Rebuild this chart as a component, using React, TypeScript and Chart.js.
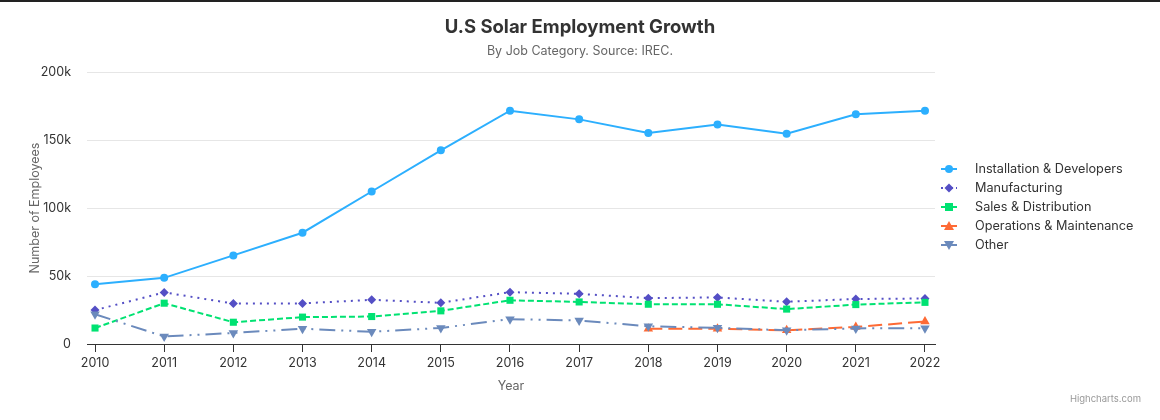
import React, { useEffect, useRef } from "react";
import { Chart, registerables } from "chart.js";

Chart.register(...registerables);

const years = [2010, 2011, 2012, 2013, 2014, 2015, 2016, 2017, 2018, 2019, 2020, 2021, 2022];
const installation = [43934, 48656, 65165, 81827, 112143, 142383, 171533, 165174, 155157, 161454, 154610, 168960, 171558];
const manufacturing = [24916, 37941, 29742, 29851, 32490, 30282, 38121, 36885, 33726, 34243, 31050, 33099, 33473];
const sales = [11744, 30000, 16005, 19771, 20185, 24377, 32147, 30912, 29243, 29213, 25663, 28978, 30618];
const operations = [null, null, null, null, null, null, null, null, 11164, 11218, 10077, 12530, 16585];
const other = [21908, 5548, 8105, 11248, 8989, 11816, 18274, 17300, 13053, 11906, 10073, 11471, 11648];
const seriesNames = ["Installation & Developers", "Manufacturing", "Sales & Distribution", "Operations & Maintenance", "Other"];
const yTicks = [0, 50000, 100000, 150000, 200000];

const FONT = "Inter, 'Noto Sans', sans-serif";

type Style = { color: string; dash: number[]; marker: string; rotation: number; radius: number };
const styles: Style[] = [
  { color: "#2caffe", dash: [], marker: "circle", rotation: 0, radius: 4 },
  { color: "#544fc5", dash: [2, 5], marker: "rectRot", rotation: 0, radius: 4.5 },
  { color: "#00e272", dash: [6, 3], marker: "rect", rotation: 0, radius: 5 },
  { color: "#fe6a35", dash: [14, 6], marker: "triangle", rotation: 0, radius: 5.5 },
  { color: "#6b8abc", dash: [16, 6, 2, 6, 2, 6], marker: "triangle", rotation: 180, radius: 5.5 },
];
const seriesValues = [installation, manufacturing, sales, operations, other];

function drawMarker(ctx: CanvasRenderingContext2D, kind: number, x: number, y: number) {
  ctx.beginPath();
  if (kind === 0) {
    ctx.arc(x, y, 4, 0, Math.PI * 2);
  } else if (kind === 1) {
    ctx.moveTo(x, y - 4.5); ctx.lineTo(x + 4.5, y); ctx.lineTo(x, y + 4.5); ctx.lineTo(x - 4.5, y);
  } else if (kind === 2) {
    ctx.rect(x - 4, y - 4, 8, 8);
  } else if (kind === 3) {
    ctx.moveTo(x, y - 5); ctx.lineTo(x + 5, y + 4); ctx.lineTo(x - 5, y + 4);
  } else {
    ctx.moveTo(x, y + 5); ctx.lineTo(x + 5, y - 4); ctx.lineTo(x - 5, y - 4);
  }
  ctx.closePath();
  ctx.fill();
}

const decorations = {
  id: "decorations",
  afterDraw(chart: any) {
    const { ctx, chartArea } = chart;
    const cx = (chartArea.left + chartArea.right) / 2;
    ctx.save();
    ctx.textAlign = "center";
    ctx.textBaseline = "middle";
    ctx.fillStyle = "#333333";
    ctx.font = `bold 18.5px ${FONT}`;
    ctx.fillText("U.S Solar Employment Growth", chart.width / 2, 27);
    ctx.fillStyle = "#666666";
    ctx.font = `12.5px ${FONT}`;
    ctx.fillText("By Job Category. Source: IREC.", chart.width / 2, 51);

    // axis titles
    ctx.fillStyle = "#666666";
    ctx.font = `12.5px ${FONT}`;
    ctx.fillText("Year", cx, 386);
    ctx.save();
    ctx.translate(35, (chartArea.top + chartArea.bottom) / 2);
    ctx.rotate(-Math.PI / 2);
    ctx.fillText("Number of Employees", 0, 0);
    ctx.restore();

    // legend
    const lx = chartArea.right + 6;
    seriesNames.forEach((name, i) => {
      const y = 169 + i * 19;
      const s = styles[i];
      ctx.strokeStyle = s.color;
      ctx.fillStyle = s.color;
      ctx.lineWidth = 2;
      ctx.setLineDash(i === 1 ? [2, 3] : []);
      ctx.beginPath();
      ctx.moveTo(lx, y);
      ctx.lineTo(lx + 16, y);
      ctx.stroke();
      ctx.setLineDash([]);
      drawMarker(ctx, i, lx + 8, y);
      ctx.fillStyle = "#333333";
      ctx.textAlign = "left";
      ctx.font = `12.7px ${FONT}`;
      ctx.fillText(name, lx + 34, y);
    });

    ctx.textAlign = "right";
    ctx.fillStyle = "#999999";
    ctx.font = `9.5px ${FONT}`;
    ctx.fillText("Highcharts.com", 1141, 399);
    ctx.restore();
  },
};

export default function App() {
  const canvasRef = useRef<HTMLCanvasElement | null>(null);

  useEffect(() => {
    document.body.style.margin = "0";
    const canvas = canvasRef.current;
    if (!canvas) return;
    const chart = new Chart(canvas, {
      type: "line",
      data: {
        datasets: seriesValues.map((vals, i) => ({
          label: seriesNames[i],
          data: years.map((yr, j) => ({ x: yr, y: vals[j] })),
          borderColor: styles[i].color,
          backgroundColor: styles[i].color,
          borderWidth: 2,
          borderDash: styles[i].dash,
          pointStyle: styles[i].marker as any,
          pointRotation: styles[i].rotation,
          pointRadius: styles[i].radius,
          pointBorderWidth: 0,
          tension: 0,
          spanGaps: false,
          clip: false as any,
          order: 5 - i,
        })),
      },
      options: {
        animation: false,
        responsive: false,
        layout: { padding: { top: 72, right: 225, left: 0, bottom: 0 } },
        plugins: { legend: { display: false }, title: { display: false }, tooltip: { enabled: false } },
        scales: {
          x: {
            type: "linear",
            min: 2009.884,
            max: 2022.145,
            afterBuildTicks: (scale: any) => {
              scale.ticks = years.map((v) => ({ value: v }));
            },
            afterFit: (scale: any) => {
              scale.height = 76;
            },
            grid: { drawOnChartArea: false, drawTicks: true, tickLength: 8, tickColor: "#333333" },
            border: { display: true, color: "#333333", width: 1 },
            ticks: {
              color: "#333333",
              font: { family: FONT, size: 12.5 },
              padding: 4,
              maxRotation: 0,
              autoSkip: false,
              callback: (v: any) => String(v),
            },
          },
          y: {
            min: 0,
            max: 200000,
            afterBuildTicks: (scale: any) => {
              scale.ticks = yTicks.map((v) => ({ value: v }));
            },
            afterFit: (scale: any) => {
              scale.width = 87;
            },
            grid: { color: "#e6e6e6", drawTicks: false },
            border: { display: false },
            ticks: {
              color: "#333333",
              font: { family: FONT, size: 12.5 },
              padding: 16,
              callback: (v: any) => (v === 0 ? "0" : `${v / 1000}k`),
            },
          },
        },
      },
      plugins: [decorations],
    });
    return () => chart.destroy();
  }, []);

  return (
    <div style={{ position: "relative", width: 1160, height: 420, background: "#ffffff" }}>
      <div style={{ position: "absolute", top: 0, left: 0, width: 1160, height: 2, background: "#222222" }} />
      <canvas ref={canvasRef} width={1160} height={420} style={{ display: "block" }} />
    </div>
  );
}
